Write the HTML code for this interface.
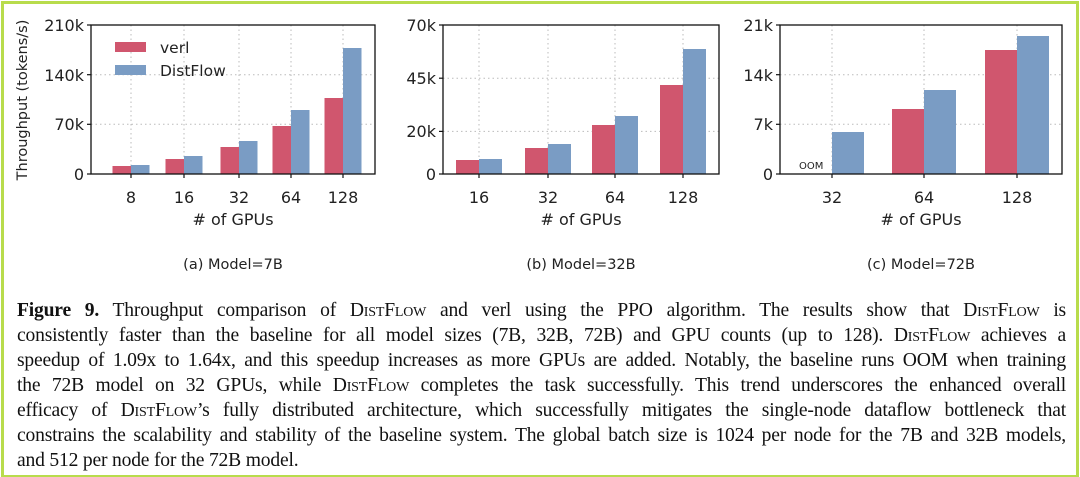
<!DOCTYPE html>
<html><head><meta charset="utf-8"><style>
html,body{margin:0;padding:0;background:#fff;}
#wrap{position:relative;width:1080px;height:477px;overflow:hidden;background:#fff;}
#border{position:absolute;left:1px;top:1px;width:1072px;height:471px;border:3px solid #b8dc4c;}
svg{position:absolute;left:0;top:0;}
.cap{position:absolute;left:17px;width:1049px;font-family:"Liberation Serif",serif;font-size:19.6px;color:#111;text-align:justify;text-align-last:justify;white-space:nowrap;line-height:20px;letter-spacing:-0.2px;}
.sc{font-variant:small-caps;}
</style></head><body><div id="wrap"><div id="border"></div>
<svg width="1080" height="477" font-family="DejaVu Sans, sans-serif" fill="#222">
<g stroke="#bbb" stroke-width="1" stroke-dasharray="1.5,3">
<line x1="91" y1="124.3" x2="375" y2="124.3"/><line x1="91" y1="74.7" x2="375" y2="74.7"/>
<line x1="131" y1="25" x2="131" y2="174"/><line x1="184" y1="25" x2="184" y2="174"/><line x1="239" y1="25" x2="239" y2="174"/><line x1="291" y1="25" x2="291" y2="174"/><line x1="343" y1="25" x2="343" y2="174"/>
<line x1="443" y1="131.4" x2="719" y2="131.4"/><line x1="443" y1="78.2" x2="719" y2="78.2"/>
<line x1="479" y1="25" x2="479" y2="174"/><line x1="548" y1="25" x2="548" y2="174"/><line x1="615" y1="25" x2="615" y2="174"/><line x1="683" y1="25" x2="683" y2="174"/>
<line x1="780" y1="124.3" x2="1062" y2="124.3"/><line x1="780" y1="74.7" x2="1062" y2="74.7"/>
<line x1="832" y1="25" x2="832" y2="174"/><line x1="924" y1="25" x2="924" y2="174"/><line x1="1017" y1="25" x2="1017" y2="174"/>
</g>
<g fill="#d0566e">
<rect x="112.5" y="166" width="18.5" height="8"/><rect x="165.5" y="159" width="18.5" height="15"/><rect x="220.5" y="147" width="18.5" height="27"/><rect x="272.5" y="126" width="18.5" height="48"/><rect x="324.5" y="98" width="18.5" height="76"/>
<rect x="456" y="160" width="23" height="14"/><rect x="525" y="148" width="23" height="26"/><rect x="592" y="125" width="23" height="49"/><rect x="660" y="85" width="23" height="89"/>
<rect x="892" y="109" width="32" height="65"/><rect x="985" y="50" width="32" height="124"/>
<rect x="115" y="42" width="31" height="10"/>
</g>
<g fill="#7a9cc4">
<rect x="131" y="165" width="18.5" height="9"/><rect x="184" y="156" width="18.5" height="18"/><rect x="239" y="141" width="18.5" height="33"/><rect x="291" y="110" width="18.5" height="64"/><rect x="343" y="48" width="18.5" height="126"/>
<rect x="479" y="159" width="23" height="15"/><rect x="548" y="144" width="23" height="30"/><rect x="615" y="116" width="23" height="58"/><rect x="683" y="49" width="23" height="125"/>
<rect x="832" y="132" width="32" height="42"/><rect x="924" y="90" width="32" height="84"/><rect x="1017" y="36" width="32" height="138"/>
<rect x="115" y="65" width="31" height="10"/>
</g>
<g fill="none" stroke="#111" stroke-width="1.3">
<rect x="91" y="25" width="284" height="149"/><rect x="443" y="25" width="276" height="149"/><rect x="780" y="25" width="282" height="149"/>
</g>
<g stroke="#111" stroke-width="1.2">
<line x1="87" y1="174" x2="91" y2="174"/><line x1="87" y1="124.3" x2="91" y2="124.3"/><line x1="87" y1="74.7" x2="91" y2="74.7"/><line x1="87" y1="25" x2="91" y2="25"/>
<line x1="439" y1="174" x2="443" y2="174"/><line x1="439" y1="131.4" x2="443" y2="131.4"/><line x1="439" y1="78.2" x2="443" y2="78.2"/><line x1="439" y1="25" x2="443" y2="25"/>
<line x1="776" y1="174" x2="780" y2="174"/><line x1="776" y1="124.3" x2="780" y2="124.3"/><line x1="776" y1="74.7" x2="780" y2="74.7"/><line x1="776" y1="25" x2="780" y2="25"/>
<line x1="131" y1="174" x2="131" y2="178"/><line x1="184" y1="174" x2="184" y2="178"/><line x1="239" y1="174" x2="239" y2="178"/><line x1="291" y1="174" x2="291" y2="178"/><line x1="343" y1="174" x2="343" y2="178"/>
<line x1="479" y1="174" x2="479" y2="178"/><line x1="548" y1="174" x2="548" y2="178"/><line x1="615" y1="174" x2="615" y2="178"/><line x1="683" y1="174" x2="683" y2="178"/>
<line x1="832" y1="174" x2="832" y2="178"/><line x1="924" y1="174" x2="924" y2="178"/><line x1="1017" y1="174" x2="1017" y2="178"/>
</g>
<g font-size="16" text-anchor="end">
<text x="84" y="180">0</text><text x="84" y="130">70k</text><text x="84" y="81">140k</text><text x="84" y="31">210k</text>
<text x="436" y="180">0</text><text x="436" y="137">20k</text><text x="436" y="84">45k</text><text x="436" y="31">70k</text>
<text x="773" y="180">0</text><text x="773" y="130">7k</text><text x="773" y="81">14k</text><text x="773" y="31">21k</text>
</g>
<g font-size="16" text-anchor="middle">
<text x="131" y="203">8</text><text x="184" y="203">16</text><text x="239" y="203">32</text><text x="291" y="203">64</text><text x="343" y="203">128</text>
<text x="479" y="203">16</text><text x="548" y="203">32</text><text x="615" y="203">64</text><text x="683" y="203">128</text>
<text x="832" y="203">32</text><text x="924" y="203">64</text><text x="1017" y="203">128</text>
<text x="233" y="225">#  of GPUs</text><text x="581" y="225">#  of GPUs</text><text x="921" y="225">#  of GPUs</text>
<text x="233" y="269" font-size="14.5">(a) Model=7B</text><text x="581" y="269" font-size="14.5">(b) Model=32B</text><text x="921" y="269" font-size="14.5">(c) Model=72B</text>
</g>
<text x="799" y="169" font-size="10">OOM</text>
<text x="160" y="53" font-size="15.5">verl</text><text x="160" y="76" font-size="15.5">DistFlow</text>
<text transform="translate(27,100) rotate(-90)" font-size="14.5" text-anchor="middle">Throughput (tokens/s)</text>
</svg>
<div class="cap" style="top:301px"><b>Figure 9.</b> Throughput comparison of <span class="sc">DistFlow</span> and verl using the PPO algorithm. The results show that <span class="sc">DistFlow</span> is</div>
<div class="cap" style="top:326px">consistently faster than the baseline for all model sizes (7B, 32B, 72B) and GPU counts (up to 128). <span class="sc">DistFlow</span> achieves a</div>
<div class="cap" style="top:351px">speedup of 1.09x to 1.64x, and this speedup increases as more GPUs are added. Notably, the baseline runs OOM when training</div>
<div class="cap" style="top:376px">the 72B model on 32 GPUs, while <span class="sc">DistFlow</span> completes the task successfully. This trend underscores the enhanced overall</div>
<div class="cap" style="top:401px">efficacy of <span class="sc">DistFlow</span>’s fully distributed architecture, which successfully mitigates the single-node dataflow bottleneck that</div>
<div class="cap" style="top:426px">constrains the scalability and stability of the baseline system. The global batch size is 1024 per node for the 7B and 32B models,</div>
<div class="cap" style="top:451px;text-align-last:left">and 512 per node for the 72B model.</div>
</div></body></html>
